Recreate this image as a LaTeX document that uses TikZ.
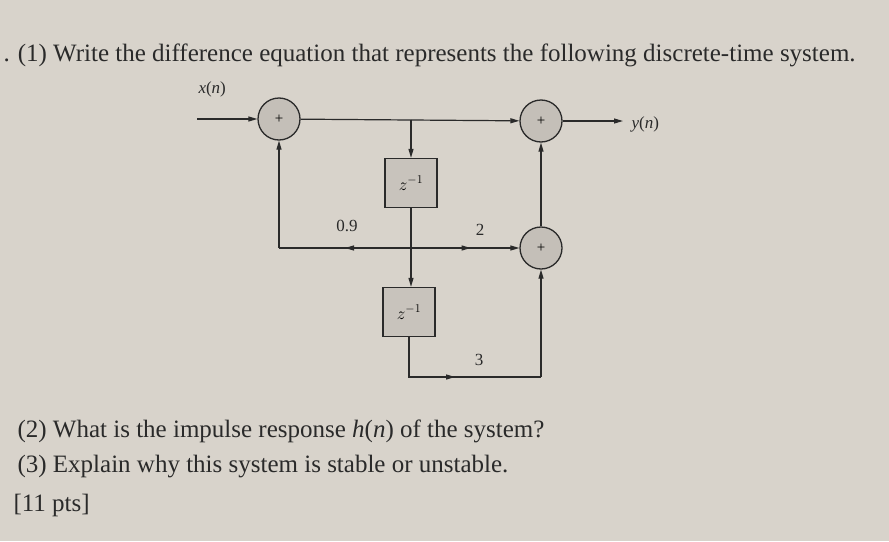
\documentclass[tikz,border=0pt]{standalone}
\usepackage{fontspec}
\setmainfont{Liberation Serif}
\usetikzlibrary{arrows.meta,decorations.markings}
\definecolor{paper}{HTML}{D8D3CB}
\definecolor{ink}{HTML}{2A2A2A}
\definecolor{sumfill}{HTML}{C4BFB8}
\begin{document}
\begin{tikzpicture}[x=1pt,y=-1pt,
  sumnode/.style={circle,draw=ink,fill=sumfill,line width=1.3pt,minimum size=42pt,inner sep=0pt,font=\fontsize{15}{15}\selectfont},
  delaybox/.style={rectangle,draw=ink,fill=sumfill!80!paper,line width=1.3pt,minimum width=52pt,minimum height=49pt,inner sep=0pt,font=\fontsize{17}{17}\selectfont},
  sig/.style={draw=ink,line width=1.2pt},
  arr/.style={sig,-{Triangle[length=9pt,width=5pt]}},
  midarr/.style={sig,postaction={decorate},decoration={markings,mark=at position #1 with {\arrow{Triangle[length=9pt,width=5pt]}}}},
  lbl/.style={text=ink,font=\fontsize{17}{17}\selectfont},
  question/.style={text=ink,anchor=west,font=\fontsize{25}{25}\selectfont}]
\fill[paper] (0,0) rectangle (889,541);
\useasboundingbox (0,0) rectangle (889,541);
\node[question] (title) at (0,55) {.\hspace{8pt}(1) Write the difference equation that represents the following discrete-time system.};
\node[question] (q2) at (14,431) {(2) What is the impulse response \textit{h}(\textit{n}) of the system?};
\node[question] (q3) at (14,467) {(3) Explain why this system is stable or unstable.};
\node[question] (q4) at (10,505) {[11 pts]};

\node[sumnode] (s1) at (279,119) {+};
\node[sumnode] (s2) at (541,121) {+};
\node[sumnode] (s3) at (541,248) {+};
\node[delaybox] (d1) at (411,183) {$z^{-1}$};
\node[delaybox] (d2) at (409,312) {$z^{-1}$};
\coordinate (in) at (197,119);
\coordinate (out) at (623,121);
\coordinate (tap) at (411,120);
\coordinate (mid) at (411,248);
\coordinate (lc) at (279,248);
\coordinate (br) at (541,377);
\node[lbl,anchor=west] (xn) at (195,89) {\textit{x}(\textit{n})};
\node[lbl,anchor=west] (yn) at (628,124) {\textit{y}(\textit{n})};
\node[lbl] (g09) at (347,226) {0.9};
\node[lbl] (g2) at (480,230) {2};
\node[lbl] (g3) at (479,360) {3};

\draw[arr] (in) -- (s1);
\draw[sig] (s1) -- (tap);
\draw[arr] (tap) -- (s2);
\draw[arr] (tap) -- (d1);
\draw[arr] (s2) -- (out);
\draw[sig] (d1) -- (mid);
\draw[arr] (mid) -- (d2.north -| mid);
\draw[midarr=0.5] (mid) -- (lc);
\draw[arr] (lc) -- (s1);
\draw[midarr=0.55,arr] (mid) -- (s3);
\draw[arr] (s3) -- (s2);
\draw[midarr=0.5] (d2) |- (br);
\draw[arr] (br) -- (s3);
\end{tikzpicture}
\end{document}
